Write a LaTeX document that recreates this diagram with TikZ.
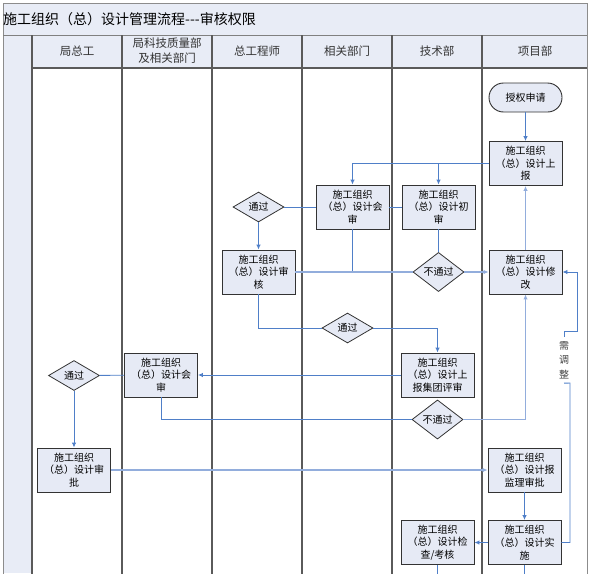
\documentclass[tikz,border=0pt]{standalone}
\usepackage{fontspec}
\setmainfont{Noto Sans CJK SC}
\usetikzlibrary{shapes.geometric,arrows.meta}
\definecolor{bandfill}{HTML}{E8ECF6}
\definecolor{boxfill}{HTML}{E6EAF5}
\definecolor{flow}{HTML}{4F7FC8}
\definecolor{flowlt}{HTML}{92ADDC}
\definecolor{lanecol}{HTML}{5A5A5A}
\begin{document}
\begin{tikzpicture}[x=1pt,y=-1pt,
  box/.style={draw=black!80, line width=0.9pt, fill=boxfill, minimum width=73pt, minimum height=44pt, inner sep=0pt, align=center, font=\fontsize{10}{12.7}\selectfont},
  term/.style={draw=black!80, line width=0.9pt, fill=boxfill, minimum width=73pt, minimum height=29pt, rounded corners=14.5pt, inner sep=0pt, font=\fontsize{10}{12}\selectfont},
  dec/.style={diamond, draw=black!80, line width=0.8pt, fill=boxfill, minimum width=51pt, minimum height=30pt, inner sep=0pt, font=\fontsize{10}{12}\selectfont},
  hdr/.style={align=center, font=\fontsize{11.5}{14}\selectfont, text=black!80},
  ln/.style={draw=flow, line width=0.9pt},
  lnlt/.style={draw=flowlt, line width=1.2pt},
  arr/.style={ln, -{Latex[length=5pt,width=4.5pt]}},
  arrlt/.style={lnlt, -{Latex[length=5pt,width=4.5pt]}},
  lane/.style={draw=lanecol, line width=1.4pt}
]
\useasboundingbox (0,0) rectangle (591,573);
% bands
\fill[bandfill] (3,3) rectangle (587,35);
\fill[bandfill] (32,35) rectangle (587,68);
\fill[bandfill] (3,35) rectangle (32,573);
\draw[draw=black!45, line width=1pt] (3,3) rectangle (587,576);
\draw[draw=black!50, line width=1pt] (3,35) -- (587,35);
\draw[lane] (32,68) -- (587,68);
\foreach \x in {32,122,212,302,392,482} {\draw[lane] (\x,35) -- (\x,576);}
\node[anchor=west, inner sep=0pt, font=\fontsize{14}{16}\selectfont] (title) at (3,19) {施工组织（总）设计管理流程-{}-{}-审核权限};
% headers
\node[hdr] (h1) at (77,51) {局总工};
\node[hdr, font=\fontsize{11.5}{15}\selectfont] (h2) at (167,51) {局科技质量部\\及相关部门};
\node[hdr] (h3) at (257,51) {总工程师};
\node[hdr] (h4) at (347,51) {相关部门};
\node[hdr] (h5) at (437,51) {技术部};
\node[hdr] (h6) at (535,51) {项目部};
% nodes
\node[term] (req) at (525.5,97.5) {授权申请};
\node[box] (up) at (525.5,163.5) {施工组织\\（总）设计上\\报};
\node[box] (hs) at (352.5,207) {施工组织\\（总）设计会\\审};
\node[box] (cs) at (438.5,207) {施工组织\\（总）设计初\\审};
\node[dec] (pass1) at (258.5,207) {通过};
\node[box] (review) at (258.5,272) {施工组织\\（总）设计审\\核};
\node[dec] (fail1) at (438.5,272) {不通过};
\node[box] (modify) at (525.5,272) {施工组织\\（总）设计修\\改};
\node[dec] (pass2) at (347.5,328) {通过};
\node[box] (grp) at (437.5,375) {施工组织\\（总）设计上\\报集团评审};
\node[dec] (fail2) at (437.5,419.5) {不通过};
\node[dec] (pass3) at (74,375.5) {通过};
\node[box] (ks) at (161,375) {施工组织\\（总）设计会\\审};
\node[box] (approve) at (74,470) {施工组织\\（总）设计审\\批};
\node[box] (sup) at (524.5,470) {施工组织\\（总）设计报\\监理审批};
\node[box] (impl) at (524.5,542.5) {施工组织\\（总）设计实\\施};
\node[box] (chk) at (437.5,542.5) {施工组织\\（总）设计检\\查/考核};
\node[inner sep=0pt, minimum height=46pt, text width=11pt, align=center, text=black!75, font=\fontsize{10}{14.5}\selectfont] (adj) at (564,360) {需\\调\\整};
\coordinate (k1) at (570,383);
\coordinate (k2) at (577,331);
\coordinate (e1) at (524.5,576);
\coordinate (e2) at (437.5,576);
% connectors
\draw[arr] (req) -- (up);
\draw[arr] (up.west) -| (hs.north);
\draw[arr] (up.west -| cs.north) -- (cs.north);
\draw[ln] (pass1) -- (hs);
\draw[ln] (hs) -- (cs);
\draw[arr] (pass1) -- (review);
\draw[ln] (cs) -- (fail1);
\draw[ln] (hs.south) |- (fail1.west);
\draw[lnlt] (review.east) -- (fail1.west);
\draw[arrlt] (fail1) -- (modify);
\draw[arrlt] (modify) -- (up);
\draw[ln] (review.south) |- (pass2.west);
\draw[arr] (pass2.east) -| (grp.north);
\draw[arr] (grp.west) -- (ks.east);
\draw[ln] (ks) -- (pass3);
\draw[arr] (pass3) -- (approve);
\draw[ln] (ks.south) |- (fail2.west);
\draw[arrlt] (fail2.east) -| (modify.south);
\draw[arrlt] (approve) -- (sup);
\draw[arr] (sup) -- (impl);
\draw[arr] (impl) -- (chk);
\draw[ln] (impl.east) -| (k1) -- (adj.south);
\draw[arr] (adj.north) |- (k2) |- (modify.east);
\draw[ln] (impl.south) -- (e1);
\draw[ln] (chk.south) -- (e2);
\end{tikzpicture}
\end{document}
